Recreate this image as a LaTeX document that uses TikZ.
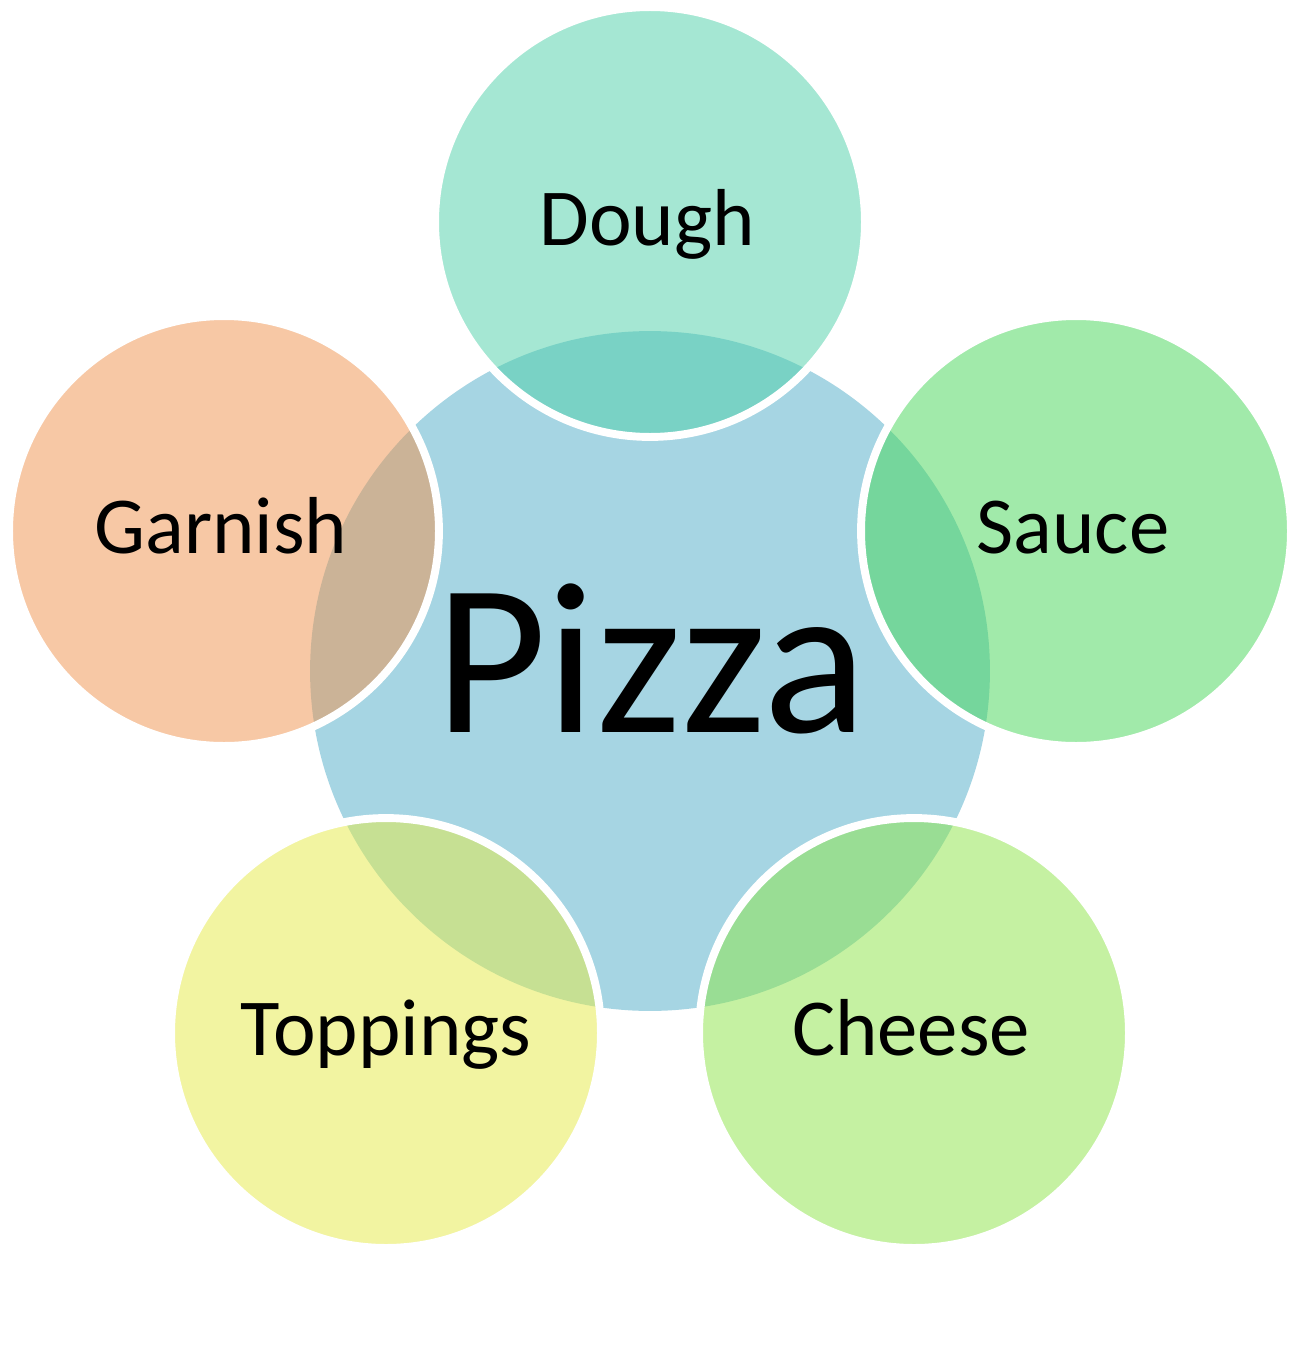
\documentclass[tikz,border=0pt]{standalone}
\usepackage{fontspec}
\setmainfont{Carlito}
\definecolor{hubblue}{RGB}{166,213,227}
\definecolor{doughc}{RGB}{77,209,169}
\definecolor{saucec}{RGB}{69,215,87}
\definecolor{garnishc}{RGB}{241,147,77}
\definecolor{toppingsc}{RGB}{231,235,69}
\definecolor{cheesec}{RGB}{141,229,71}
\begin{document}
\begin{tikzpicture}[x=0.02cm,y=-0.02cm,
  hub/.style={circle,fill=hubblue,minimum size=13.6cm,inner sep=0pt},
  petal/.style={circle,fill=#1,fill opacity=0.5,draw=white,line width=4.5pt,minimum size=8.6cm,inner sep=0pt},
  lbl/.style={anchor=base,font=\fontsize{46}{50}\selectfont,text=black},
  big/.style={anchor=base,font=\fontsize{123}{130}\selectfont,text=black}]
\useasboundingbox (0,0) rectangle (1300,1345);
\fill[white] (0,0) rectangle (1300,1345);
\node[hub] (pizza) at (650,671) {};
\node[petal=doughc] (dough) at (650,222) {};
\node[petal=garnishc] (garnish) at (224,531) {};
\node[petal=saucec] (sauce) at (1076,531) {};
\node[petal=toppingsc] (toppings) at (386,1033) {};
\node[petal=cheesec] (cheese) at (914,1033) {};
\node[big] (tpizza) at (651,732) {Pizza};
\node[lbl] (tdough) at (647,245) {Dough};
\node[lbl] (tgarnish) at (221,553) {Garnish};
\node[lbl] (tsauce) at (1073,553) {Sauce};
\node[lbl] (ttoppings) at (386,1055) {Toppings};
\node[lbl] (tcheese) at (911,1055) {Cheese};
\end{tikzpicture}
\end{document}
